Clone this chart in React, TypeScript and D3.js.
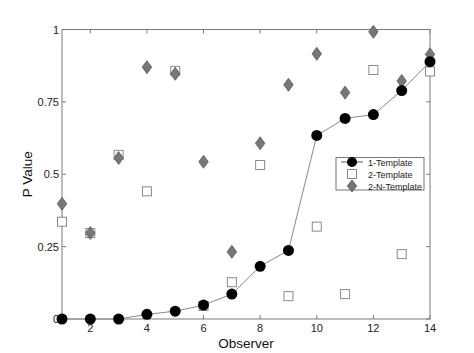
import React from "react";
import * as d3 from "d3";

const observers = [1, 2, 3, 4, 5, 6, 7, 8, 9, 10, 11, 12, 13, 14];
const oneTemplate = [0, 0, 0, 0.016, 0.027, 0.048, 0.086, 0.182, 0.237, 0.634, 0.693, 0.706, 0.789, 0.889];
const twoTemplate = [0.336, 0.297, 0.567, 0.441, 0.857, 0.045, 0.127, 0.532, 0.079, 0.319, 0.086, 0.86, 0.224, 0.855];
const twoNTemplate = [0.398, 0.297, 0.556, 0.87, 0.847, 0.543, 0.232, 0.607, 0.809, 0.916, 0.782, 0.992, 0.822, 0.914];
const xTicks = [2, 4, 6, 8, 10, 12, 14];
const yTicks = [0, 0.25, 0.5, 0.75, 1];
const yTickLabels = ["0", "0.25", "0.5", "0.75", "1"];
const legendLabels = ["1-Template", "2-Template", "2-N-Template"];

const W = 474, H = 353;
const M = { left: 62, right: 430, top: 29.5, bottom: 319 };
const FONT = "'Liberation Sans', Arial, sans-serif";
const AX = "#7a7a7a";

const diamondPath = (cx: number, cy: number, w: number, h: number) =>
  `M${cx},${cy - h / 2}L${cx + w / 2},${cy}L${cx},${cy + h / 2}L${cx - w / 2},${cy}Z`;

export default function App() {
  const x = d3.scaleLinear().domain([1, 14]).range([M.left, M.right]);
  const y = d3.scaleLinear().domain([0, 1]).range([M.bottom, M.top]);
  const line = d3
    .line<number>()
    .x((_, i) => x(observers[i]))
    .y((d) => y(d));
  const tl = 4;
  const lx = 352, ly0 = 162, ldy = 12;

  return (
    <svg width={W} height={H} style={{ position: "absolute", left: 0, top: 0, background: "#fff" }}>
      <rect x={0} y={0} width={W} height={H} fill="#fff" />
      <rect x={M.left} y={M.top} width={M.right - M.left} height={M.bottom - M.top} fill="none" stroke={AX} strokeWidth={1} />
      {xTicks.map((t) => (
        <g key={"xt" + t}>
          <line x1={x(t)} x2={x(t)} y1={M.bottom} y2={M.bottom - tl} stroke={AX} />
          <line x1={x(t)} x2={x(t)} y1={M.top} y2={M.top + tl} stroke={AX} />
          <text x={x(t)} y={M.bottom + 13} textAnchor="middle" fontFamily={FONT} fontSize={11} fill="#222">
            {t}
          </text>
        </g>
      ))}
      {yTicks.map((t, i) => (
        <g key={"yt" + t}>
          <line x1={M.left} x2={M.left + tl} y1={y(t)} y2={y(t)} stroke={AX} />
          <line x1={M.right} x2={M.right - tl} y1={y(t)} y2={y(t)} stroke={AX} />
          <text x={M.left - 3} y={y(t) + 4} textAnchor="end" fontFamily={FONT} fontSize={11} fill="#222">
            {yTickLabels[i]}
          </text>
        </g>
      ))}
      <text x={246} y={348} textAnchor="middle" fontFamily={FONT} fontSize={13.5} fill="#111">
        Observer
      </text>
      <text transform={`translate(32,${(M.top + M.bottom) / 2}) rotate(-90)`} textAnchor="middle" fontFamily={FONT} fontSize={13.5} fill="#111">
        P Value
      </text>

      {twoTemplate.map((v, i) => (
        <rect key={"s" + i} x={x(observers[i]) - 4.5} y={y(v) - 4.5} width={9} height={9} fill="#fff" stroke="#8a8a8a" strokeWidth={1} />
      ))}
      {twoNTemplate.map((v, i) => (
        <path key={"d" + i} d={diamondPath(x(observers[i]), y(v), 9.5, 13)} fill="#777" stroke="#5a5a5a" strokeWidth={0.8} />
      ))}
      <path d={line(oneTemplate) || ""} fill="none" stroke="#8a8a8a" strokeWidth={1} />
      {oneTemplate.map((v, i) => (
        <circle key={"c" + i} cx={x(observers[i])} cy={y(v)} r={5.5} fill="#000" />
      ))}

      <rect x={336} y={157.5} width={88} height={32.5} fill="#fff" stroke="#777" strokeWidth={1} />
      <line x1={341} x2={363} y1={ly0} y2={ly0} stroke="#555" />
      <circle cx={lx} cy={ly0} r={5} fill="#000" />
      <rect x={lx - 4.5} y={ly0 + ldy - 4.5} width={9} height={9} fill="#fff" stroke="#8a8a8a" />
      <path d={diamondPath(lx, ly0 + 2 * ldy, 9.5, 12)} fill="#777" stroke="#5a5a5a" strokeWidth={0.8} />
      {legendLabels.map((l, i) => (
        <text key={l} x={368} y={ly0 + i * ldy + 3.5} fontFamily={FONT} fontSize={9} fill="#222">
          {l}
        </text>
      ))}
    </svg>
  );
}
